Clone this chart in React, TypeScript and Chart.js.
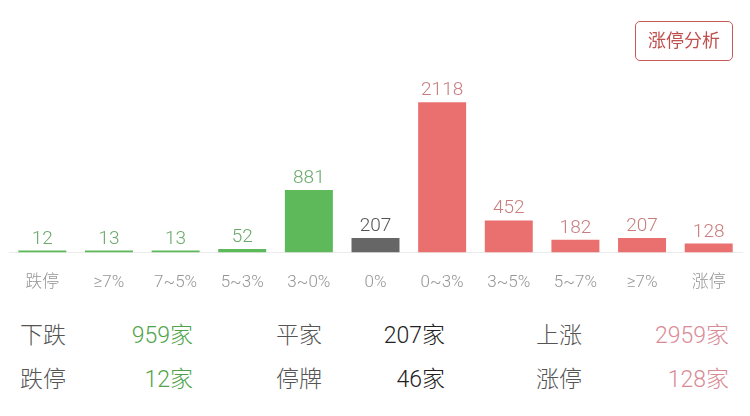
import React, { useEffect, useRef } from "react";
import { Chart, registerables } from "chart.js";

Chart.register(...registerables);

const categories = ["跌停", "≥7%", "7~5%", "5~3%", "3~0%", "0%", "0~3%", "3~5%", "5~7%", "≥7%", "涨停"];
const counts = [12, 13, 13, 52, 881, 207, 2118, 452, 182, 207, 128];
const barColors = ["#5db95a", "#5db95a", "#5db95a", "#5db95a", "#5db95a", "#666666", "#e9706e", "#e9706e", "#e9706e", "#e9706e", "#e9706e"];
const labelColors = ["#6aa869", "#6aa869", "#6aa869", "#6aa869", "#6aa869", "#555555", "#c77d7d", "#c77d7d", "#c77d7d", "#c77d7d", "#c77d7d"];

const summaryRows = [
  [
    { label: "下跌", value: "959家", color: "#4fa44b" },
    { label: "平家", value: "207家", color: "#222222" },
    { label: "上涨", value: "2959家", color: "#d98b95" },
  ],
  [
    { label: "跌停", value: "12家", color: "#4fa44b" },
    { label: "停牌", value: "46家", color: "#222222" },
    { label: "涨停", value: "128家", color: "#d98b95" },
  ],
];

const FONT = 'Roboto, "Noto Sans CJK SC", "Noto Sans", sans-serif';

const valueLabels = {
  id: "valueLabels",
  afterDatasetsDraw(chart: any) {
    const ctx = chart.ctx;
    const meta = chart.getDatasetMeta(0);
    ctx.save();
    ctx.font = `300 19px ${FONT}`;
    ctx.textAlign = "center";
    ctx.textBaseline = "alphabetic";
    meta.data.forEach((bar: any, i: number) => {
      ctx.fillStyle = labelColors[i];
      ctx.fillText(String(counts[i]), bar.x, bar.y - 7);
    });
    ctx.restore();
  },
};

export default function App() {
  const ref = useRef<HTMLCanvasElement>(null);
  useEffect(() => {
    const chart = new Chart(ref.current!, {
      type: "bar",
      data: {
        labels: categories,
        datasets: [
          {
            data: counts,
            backgroundColor: barColors,
            barPercentage: 0.72,
            categoryPercentage: 1,
            minBarLength: 2,
            borderWidth: 0,
          },
        ],
      },
      options: {
        responsive: false,
        animation: false,
        devicePixelRatio: 1,
        layout: { padding: { left: 9, right: 8, top: 40, bottom: 7 } },
        plugins: { legend: { display: false }, tooltip: { enabled: false } },
        scales: {
          x: {
            grid: { display: false, drawTicks: false },
            border: { display: true, color: "#ececec", width: 1 },
            ticks: { color: "#959595", font: { size: 17, family: FONT, weight: "300" as any }, padding: 20, maxRotation: 0, autoSkip: false },
          },
          y: { display: false, min: 0, max: 2993 },
        },
      },
      plugins: [valueLabels],
    });
    return () => chart.destroy();
  }, []);

  return (
    <div style={{ position: "fixed", left: 0, top: 0, width: 750, height: 416, background: "#fff", fontFamily: FONT, fontWeight: 300, overflow: "hidden" }}>
      <canvas ref={ref} width={750} height={320} style={{ position: "absolute", left: 0, top: 0, width: 750, height: 320 }} />
      <div
        style={{
          position: "absolute",
          left: 635,
          top: 21,
          width: 98,
          height: 40,
          boxSizing: "border-box",
          border: "1.5px solid #c65a57",
          borderRadius: 5,
          color: "#c0504d",
          fontSize: 18,
          lineHeight: "37px",
          textAlign: "center",
          fontWeight: 400,
        }}
      >
        涨停分析
      </div>
      {summaryRows.map((row, r) => (
        <div key={r}>
          {row.map((cell, c) => {
            const labelLeft = [20, 276, 536][c];
            const valueRight = [193, 445, 729][c];
            const top = [336, 380][r] - 16;
            return (
              <React.Fragment key={c}>
                <div style={{ position: "absolute", left: labelLeft, top, fontSize: 23, lineHeight: "32px", color: "#555555" }}>{cell.label}</div>
                <div style={{ position: "absolute", right: 750 - valueRight, top, fontSize: 23, lineHeight: "32px", color: cell.color, textAlign: "right" }}>{cell.value}</div>
              </React.Fragment>
            );
          })}
        </div>
      ))}
    </div>
  );
}
